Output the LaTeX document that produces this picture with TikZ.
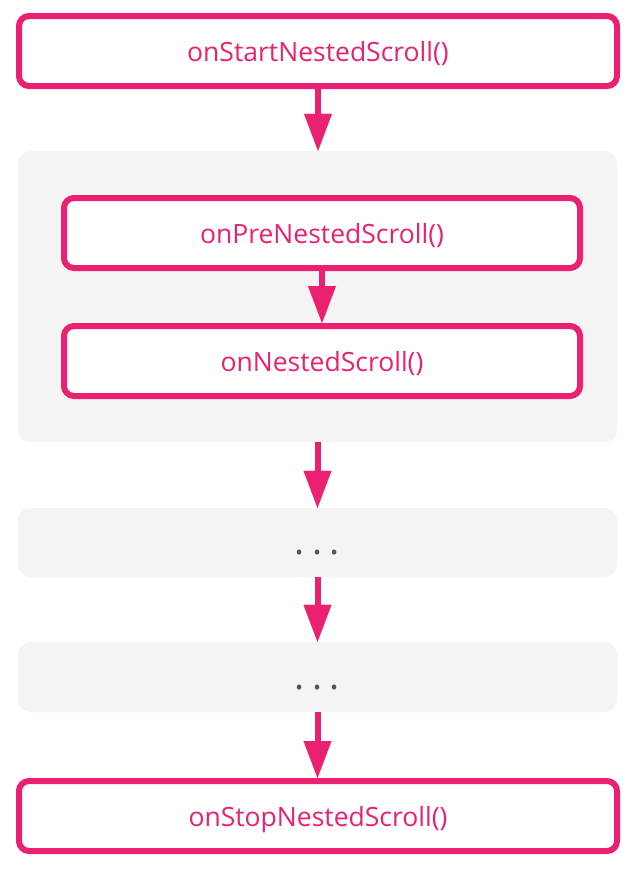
\documentclass[tikz,border=0pt]{standalone}
\usepackage{fontspec}
\setmainfont{Open Sans}
\usetikzlibrary{arrows.meta}
\definecolor{pinkc}{HTML}{EC2070}
\definecolor{grayc}{HTML}{F4F4F4}
\definecolor{dotc}{HTML}{555555}
\begin{document}
\begin{tikzpicture}[x=1pt,y=-1pt,
  callbox/.style={draw=pinkc, line width=6pt, fill=white, rounded corners=10pt,
    text=pinkc, font=\fontsize{26.5}{30}\selectfont, text height=20pt, text depth=0pt, inner sep=0pt},
  panel/.style={fill=grayc, rounded corners=12pt, inner sep=0pt, draw=none,
    text=dotc, font=\fontsize{38}{40}\selectfont, text height=24pt, text depth=0pt,
    minimum width=599pt},
  flow/.style={draw=pinkc, line width=6pt, -{Triangle[length=37pt,width=28pt,line width=0.01pt]}},
]
\fill[white] (0,0) rectangle (638,873);
\useasboundingbox (0,0) rectangle (638,873);
\node[panel, minimum height=291pt] (p1) at (317.5,296.5) {};
\node[callbox, minimum width=598pt, minimum height=70pt] (start) at (318,51) {onStartNestedScroll()};
\node[callbox, minimum width=516pt, minimum height=70pt] (pre) at (322,233) {onPreNestedScroll()};
\node[callbox, minimum width=516pt, minimum height=70pt] (nested) at (322,361) {onNestedScroll()};
\node[panel, minimum height=69pt] (p2) at (317.5,542.5) {.\hspace{7.4pt}.\hspace{7.4pt}.};
\node[panel, minimum height=70pt] (p3) at (317.5,677) {.\hspace{7.4pt}.\hspace{7.4pt}.};
\node[callbox, minimum width=598pt, minimum height=70pt] (stop) at (318,816) {onStopNestedScroll()};
\draw[flow] (start.south) -- (start.south |- p1.north);
\draw[flow] (pre.south) -- (pre.south |- nested.north);
\draw[flow] (p1.south) -- (p1.south |- p2.north);
\draw[flow] (p2.south) -- (p2.south |- p3.north);
\draw[flow] (p3.south) -- (p3.south |- stop.north);
\end{tikzpicture}
\end{document}
